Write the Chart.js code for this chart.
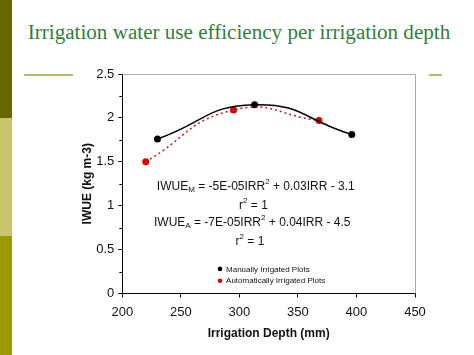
<!DOCTYPE html>
<html>
<head>
<meta charset="utf-8">
<script src="https://cdn.jsdelivr.net/npm/chart.js@4/dist/chart.umd.min.js"></script>
<style>
  html, body { margin: 0; padding: 0; background: #fff; }
  #wrap { position: relative; width: 474px; height: 355px; overflow: hidden; }
  .bar { position: absolute; left: 0; width: 12px; }
  .hl { position: absolute; height: 2px; background: #b9b86e; }
  #title { position: absolute; left: 0; width: 478px; top: 20px; text-align: center;
           font-family: "Liberation Serif", "Times New Roman", serif; font-size: 21.1px;
           color: #2f7f3c; white-space: nowrap; }
  canvas { position: absolute; left: 0; top: 0; }
</style>
</head>
<body>
<div id="wrap">
  <div class="bar" style="top:0;height:118px;background:#676700;"></div>
  <div class="bar" style="top:118px;height:118px;background:#c9c56c;"></div>
  <div class="bar" style="top:236px;height:119px;background:#999a03;"></div>
  <div class="hl" style="left:24px;width:49px;top:74px;"></div>
  <div class="hl" style="left:429px;width:13px;top:74px;"></div>
  <div id="title">Irrigation water use efficiency per irrigation depth</div>
  <canvas id="c" width="474" height="355"></canvas>
</div>
<script>
// ---- data ----
const manualDepth = [230, 313, 396];
const manualIWUE  = [1.76, 2.15, 1.81];
const autoDepth   = [220, 295, 368];
const autoIWUE    = [1.50, 2.09, 1.97];
const xTickValues = [200, 250, 300, 350, 400, 450];
const yTickLabels = [0, 0.5, 1, 1.5, 2, 2.5];
const seriesNames = ["Manually Irrigated Plots", "Automatically Irrigated Plots"];
const xTitle = "Irrigation Depth (mm)";
const yTitle = "IWUE (kg m-3)";

const toXY = (xs, ys) => xs.map((x, i) => ({ x: x, y: ys[i] }));

const FONT = '"Liberation Sans", Arial, sans-serif';

function drawRich(ctx, parts, cx, y) {
  let total = 0;
  parts.forEach(p => {
    ctx.font = (p.s ? 8 : 12) + 'px ' + FONT;
    p.w = ctx.measureText(p.t).width;
    total += p.w;
  });
  let x = cx - total / 2;
  parts.forEach(p => {
    ctx.font = (p.s ? 8 : 12) + 'px ' + FONT;
    const dy = p.s === 'sub' ? 3 : (p.s === 'sup' ? -5 : 0);
    ctx.fillText(p.t, x, y + dy);
    x += p.w;
  });
}

const overlay = {
  id: 'overlay',
  beforeDatasetsDraw(chart) {
    const { ctx, chartArea: a, scales } = chart;
    ctx.save();
    ctx.strokeStyle = '#aaaaaa';
    ctx.lineWidth = 1;
    ctx.beginPath();
    ctx.moveTo(a.left, Math.round(a.top) + 0.5);
    ctx.lineTo(Math.round(a.right) + 0.5, Math.round(a.top) + 0.5);
    ctx.lineTo(Math.round(a.right) + 0.5, a.bottom);
    ctx.stroke();
    // minor y ticks
    ctx.strokeStyle = '#000';
    const ys = scales.y;
    ys.ticks.forEach(t => {
      if (t.value % 0.5 !== 0) {
        const py = Math.round(ys.getPixelForValue(t.value)) + 0.5;
        ctx.beginPath();
        ctx.moveTo(a.left - 3, py);
        ctx.lineTo(a.left, py);
        ctx.stroke();
      }
    });
    ctx.restore();
  },
  afterDatasetsDraw(chart) {
    const { ctx, scales } = chart;
    const xs = scales.x, ys = scales.y;
    ctx.save();
    ctx.fillStyle = '#111';
    ctx.textBaseline = 'middle';
    ctx.textAlign = 'left';
    const cx = xs.getPixelForValue(314);
    drawRich(ctx, [{t:'IWUE'},{t:'M',s:'sub'},{t:' = -5E-05IRR'},{t:'2',s:'sup'},{t:' + 0.03IRR - 3.1'}], cx, ys.getPixelForValue(1.215));
    drawRich(ctx, [{t:'r'},{t:'2',s:'sup'},{t:' = 1'}], xs.getPixelForValue(312), ys.getPixelForValue(1.0));
    drawRich(ctx, [{t:'IWUE'},{t:'A',s:'sub'},{t:' = -7E-05IRR'},{t:'2',s:'sup'},{t:' + 0.04IRR - 4.5'}], xs.getPixelForValue(311), ys.getPixelForValue(0.805));
    drawRich(ctx, [{t:'r'},{t:'2',s:'sup'},{t:' = 1'}], xs.getPixelForValue(309), ys.getPixelForValue(0.59));
    // legend
    const lx = xs.getPixelForValue(283.5);
    const rows = [[0.28, '#000000', seriesNames[0]], [0.145, '#dd0000', seriesNames[1]]];
    rows.forEach(r => {
      const py = ys.getPixelForValue(r[0]);
      ctx.fillStyle = r[1];
      ctx.beginPath();
      ctx.arc(lx, py, 2.3, 0, Math.PI * 2);
      ctx.fill();
      ctx.fillStyle = '#111';
      ctx.font = '8px ' + FONT;
      ctx.fillText(r[2], lx + 6, py + 0.5);
    });
    ctx.restore();
  }
};

new Chart(document.getElementById('c'), {
  type: 'line',
  data: {
    datasets: [
      { label: 'manual fit', data: toXY(manualDepth, manualIWUE), borderColor: '#000', borderWidth: 1.5,
        tension: 0.5, pointRadius: 0, fill: false },
      { label: 'auto fit', data: toXY(autoDepth, autoIWUE), borderColor: '#cc1111', borderWidth: 1.5,
        borderDash: [2, 3], tension: 0.5, pointRadius: 0, fill: false },
      { label: seriesNames[0], data: toXY(manualDepth, manualIWUE), showLine: false,
        pointRadius: 3.5, pointBackgroundColor: '#000', pointBorderColor: '#000', borderWidth: 0 },
      { label: seriesNames[1], data: toXY(autoDepth, autoIWUE), showLine: false,
        pointRadius: 3.5, pointBackgroundColor: '#e00000', pointBorderColor: '#e00000', borderWidth: 0 }
    ]
  },
  options: {
    responsive: false,
    animation: false,
    devicePixelRatio: 1,
    layout: { padding: { left: 80, right: 59, top: 74, bottom: 14 } },
    plugins: { legend: { display: false }, tooltip: { enabled: false } },
    scales: {
      x: {
        type: 'linear', min: 200, max: 450,
        afterFit: s => { s.height = 47.5; },
        afterBuildTicks: s => { s.ticks = xTickValues.map(v => ({ value: v })); },
        grid: { drawOnChartArea: false, drawTicks: true, tickLength: 4, tickColor: '#000' },
        border: { color: '#000', width: 1 },
        ticks: { color: '#111', font: { family: FONT, size: 13 }, padding: 7, maxRotation: 0 },
        title: { display: true, text: xTitle, color: '#111', padding: 0,
                 font: { family: FONT, size: 12, weight: 'bold' } }
      },
      y: {
        type: 'linear', min: 0, max: 2.5,
        afterFit: s => { s.width = 42.3; },
        grid: { drawOnChartArea: false, drawTicks: true, tickLength: 4,
                tickColor: c => (c.tick && c.tick.value % 0.5 !== 0) ? 'rgba(0,0,0,0)' : '#000' },
        border: { color: '#000', width: 1 },
        ticks: { stepSize: 0.25, color: '#111', font: { family: FONT, size: 13 }, padding: 4,
                 callback: v => yTickLabels.includes(v) ? String(v) : '' },
        title: { display: true, text: yTitle, color: '#111', padding: 0,
                 font: { family: FONT, size: 12, weight: 'bold' } }
      }
    }
  },
  plugins: [overlay]
});
</script>
</body>
</html>
